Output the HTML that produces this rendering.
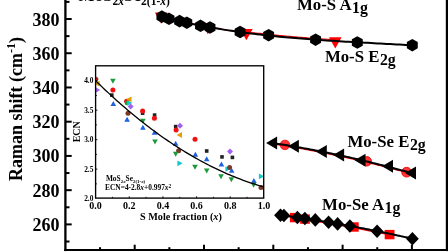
<!DOCTYPE html>
<html><head><meta charset="utf-8"><style>
html,body{margin:0;padding:0;background:#fff;}
svg{display:block;}
text{font-family:"Liberation Serif",serif;font-weight:bold;fill:#000;}
.tk{font-size:18px;}
.yl{font-size:18px;}
.sl{font-size:16.8px;}
.it{font-size:7.4px;}
.ix{font-size:10px;}
.ixl{font-size:10.2px;}
.iyl{font-size:10px;}
.itx{font-size:7.4px;}
</style></head><body>
<svg width="448" height="252" viewBox="0 0 448 252">
<defs><clipPath id="ic"><rect x="95.6" y="65.8" width="168.1" height="132.3"/></clipPath></defs>
<rect width="448" height="252" fill="#fff"/>
<polygon points="154.9,12.5 167.5,12.5 161.2,23.8" fill="#f00"/>
<polygon points="201.5,23 214.1,23 207.8,34.3" fill="#f00"/>
<polygon points="240.1,28.9 252.7,28.9 246.4,40.2" fill="#f00"/>
<polygon points="329,37.3 341.6,37.3 335.3,48.6" fill="#f00"/>
<polyline points="161.2,16.66 163.18,17.17 165.15,17.68 167.13,18.18 169.1,18.66 171.08,19.15 173.05,19.62 175.03,20.09 177,20.55 178.98,21.01 180.95,21.46 182.93,21.9 184.9,22.33 186.88,22.76 188.85,23.18 190.83,23.6 192.8,24.01 194.78,24.41 196.76,24.81 198.73,25.2 200.71,25.58 202.68,25.96 204.66,26.33 206.63,26.7 208.61,27.06 210.58,27.41 212.56,27.76 214.53,28.1 216.51,28.44 218.48,28.77 220.46,29.1 222.43,29.42 224.41,29.74 226.38,30.05 228.36,30.35 230.33,30.65 232.31,30.95 234.29,31.24 236.26,31.46 238.24,31.65 240.21,31.83 242.19,32.01 244.16,32.18 246.14,32.35 248.11,32.51 250.09,32.67 252.06,32.82 254.04,32.97 256.01,33.11 257.99,33.25 259.96,33.39 261.94,33.62 263.91,33.84 265.89,34.06 267.87,34.27 269.84,34.49 271.82,34.69 273.79,34.9 275.77,35.1 277.74,35.3 279.72,35.49 281.69,35.68 283.67,35.87 285.64,36.05 287.62,36.23 289.59,36.41 291.57,36.58 293.54,36.76 295.52,36.92 297.49,37.09 299.47,37.25 301.44,37.41 303.42,37.57 305.4,37.72 307.37,37.88 309.35,38.03 311.32,38.17 313.3,38.32 315.27,38.46 317.25,38.6 319.22,38.74 321.2,38.88 323.17,39.01 325.15,39.14 327.12,39.27 329.1,39.4 331.07,39.53 333.05,39.66 335.02,39.78 337,39.9" fill="none" stroke="#f00" stroke-width="1.2"/>
<polyline points="161.9,16.84 165.07,17.66 168.24,18.45 171.41,19.23 174.58,19.99 177.75,20.73 180.92,21.45 184.09,22.16 187.26,22.84 190.43,23.52 193.6,24.17 196.77,24.81 199.94,25.43 203.11,26.04 206.27,26.63 209.44,27.21 212.61,27.77 215.78,28.32 218.95,28.85 222.12,29.37 225.29,29.88 228.46,30.37 231.63,30.85 234.8,31.31 237.97,31.77 241.14,32.21 244.31,32.64 247.48,33.06 250.65,33.46 253.82,33.86 256.99,34.24 260.16,34.61 263.33,34.97 266.5,35.33 269.67,35.67 272.84,36 276.01,36.32 279.18,36.64 282.35,36.94 285.52,37.24 288.68,37.53 291.85,37.81 295.02,38.08 298.19,38.35 301.36,38.61 304.53,38.86 307.7,39.1 310.87,39.34 314.04,39.57 317.21,39.8 320.38,40.02 323.55,40.24 326.72,40.45 329.89,40.65 333.06,40.86 336.23,41.05 339.4,41.25 342.57,41.44 345.74,41.63 348.91,41.81 352.08,41.99 355.25,42.17 358.42,42.35 361.59,42.52 364.76,42.69 367.93,42.87 371.09,43.04 374.26,43.21 377.43,43.38 380.6,43.54 383.77,43.71 386.94,43.88 390.11,44.05 393.28,44.22 396.45,44.39 399.62,44.57 402.79,44.74 405.96,44.92 409.13,45.1 412.3,45.28" fill="none" stroke="#000" stroke-width="2.0" stroke-linejoin="round"/>
<polygon points="161.9,10.3 156.44,13.45 156.44,19.75 161.9,22.9 167.36,19.75 167.36,13.45" fill="#000"/>
<polygon points="169,12.5 163.54,15.65 163.54,21.95 169,25.1 174.46,21.95 174.46,15.65" fill="#000"/>
<polygon points="179.6,14.8 174.14,17.95 174.14,24.25 179.6,27.4 185.06,24.25 185.06,17.95" fill="#000"/>
<polygon points="186.8,16.4 181.34,19.55 181.34,25.85 186.8,29 192.26,25.85 192.26,19.55" fill="#000"/>
<polygon points="200.5,19.5 195.04,22.65 195.04,28.95 200.5,32.1 205.96,28.95 205.96,22.65" fill="#000"/>
<polygon points="210,21.2 204.54,24.35 204.54,30.65 210,33.8 215.46,30.65 215.46,24.35" fill="#000"/>
<polygon points="240.1,25.7 234.64,28.85 234.64,35.15 240.1,38.3 245.56,35.15 245.56,28.85" fill="#000"/>
<polygon points="268.6,28.9 263.14,32.05 263.14,38.35 268.6,41.5 274.06,38.35 274.06,32.05" fill="#000"/>
<polygon points="315.6,33.4 310.14,36.55 310.14,42.85 315.6,46 321.06,42.85 321.06,36.55" fill="#000"/>
<polygon points="357.3,36.2 351.84,39.35 351.84,45.65 357.3,48.8 362.76,45.65 362.76,39.35" fill="#000"/>
<polygon points="412.3,38.9 406.84,42.05 406.84,48.35 412.3,51.5 417.76,48.35 417.76,42.05" fill="#000"/>
<circle cx="284.95" cy="144.9" r="4.75" fill="#ff3434" stroke="#e80000" stroke-width="0.8"/>
<circle cx="366.7" cy="161.3" r="4.8" fill="#ff3434" stroke="#e80000" stroke-width="0.8"/>
<circle cx="406.6" cy="172.2" r="4.9" fill="#ff3434" stroke="#e80000" stroke-width="0.8"/>
<polyline points="271.5,143.73 273.26,144 275.02,144.27 276.78,144.55 278.54,144.82 280.3,145.1 282.06,145.39 283.82,145.67 285.58,145.96 287.34,146.26 289.09,146.55 290.85,146.85 292.61,147.15 294.37,147.45 296.13,147.76 297.89,148.07 299.65,148.38 301.41,148.69 303.17,149.01 304.93,149.33 306.69,149.65 308.45,149.98 310.21,150.31 311.97,150.64 313.73,150.97 315.49,151.31 317.25,151.65 319.01,151.99 320.77,152.34 322.53,152.69 324.28,153.04 326.04,153.39 327.8,153.75 329.56,154.11 331.32,154.47 333.08,154.83 334.84,155.2 336.6,155.57 338.36,155.94 340.12,156.32 341.88,156.7 343.64,157.08 345.4,157.47 347.16,157.85 348.92,158.24 350.68,158.64 352.44,159.03 354.2,159.43 355.96,159.83 357.72,160.24 359.47,160.64 361.23,161.05 362.99,161.47 364.75,161.88 366.51,162.3 368.27,162.72 370.03,163.14 371.79,163.57 373.55,164 375.31,164.43 377.07,164.87 378.83,165.31 380.59,165.75 382.35,166.19 384.11,166.64 385.87,167.08 387.63,167.54 389.39,167.99 391.15,168.45 392.91,168.91 394.66,169.37 396.42,169.84 398.18,170.31 399.94,170.78 401.7,171.25 403.46,171.73 405.22,172.21 406.98,172.69 408.74,173.18 410.5,173.67" fill="none" stroke="#f00" stroke-width="1.2" stroke-linejoin="round"/>
<polyline points="271.5,142.83 273.26,143.1 275.02,143.37 276.78,143.65 278.54,143.92 280.3,144.2 282.06,144.49 283.82,144.77 285.58,145.06 287.34,145.36 289.09,145.65 290.85,145.95 292.61,146.25 294.37,146.55 296.13,146.86 297.89,147.17 299.65,147.48 301.41,147.79 303.17,148.11 304.93,148.43 306.69,148.75 308.45,149.08 310.21,149.41 311.97,149.74 313.73,150.07 315.49,150.41 317.25,150.75 319.01,151.09 320.77,151.44 322.53,151.79 324.28,152.14 326.04,152.49 327.8,152.85 329.56,153.21 331.32,153.57 333.08,153.93 334.84,154.3 336.6,154.67 338.36,155.04 340.12,155.42 341.88,155.8 343.64,156.18 345.4,156.57 347.16,156.95 348.92,157.34 350.68,157.74 352.44,158.13 354.2,158.53 355.96,158.93 357.72,159.34 359.47,159.74 361.23,160.15 362.99,160.57 364.75,160.98 366.51,161.4 368.27,161.82 370.03,162.24 371.79,162.67 373.55,163.1 375.31,163.53 377.07,163.97 378.83,164.41 380.59,164.85 382.35,165.29 384.11,165.74 385.87,166.18 387.63,166.64 389.39,167.09 391.15,167.55 392.91,168.01 394.66,168.47 396.42,168.94 398.18,169.41 399.94,169.88 401.7,170.35 403.46,170.83 405.22,171.31 406.98,171.79 408.74,172.28 410.5,172.77" fill="none" stroke="#000" stroke-width="2.0" stroke-linejoin="round"/>
<polygon points="266.1,142.9 277.1,136.4 277.1,149.4" fill="#000"/>
<polygon points="287.9,146.3 298.9,139.8 298.9,152.8" fill="#000"/>
<polygon points="315.8,151.5 326.8,145 326.8,158" fill="#000"/>
<polygon points="333.1,155 344.1,148.5 344.1,161.5" fill="#000"/>
<polygon points="354.5,160.3 365.5,153.8 365.5,166.8" fill="#000"/>
<polygon points="382,166.2 393,159.7 393,172.7" fill="#000"/>
<polygon points="405,172.9 416,166.4 416,179.4" fill="#000"/>
<rect x="289.9" y="212.9" width="9.8" height="9.4" fill="#f00"/>
<rect x="300.1" y="214.4" width="9.8" height="9.4" fill="#f00"/>
<rect x="348.9" y="222.3" width="9.8" height="9.4" fill="#f00"/>
<rect x="384.7" y="229.9" width="9.8" height="9.4" fill="#f00"/>
<polyline points="294.8,218.26 296,218.43 297.2,218.6 298.4,218.78 299.6,218.95 300.8,219.13 302,219.3 303.2,219.48 304.4,219.66 305.6,219.84 306.8,220.02 308,220.2 309.2,220.38 310.4,220.56 311.6,220.75 312.8,220.93 314,221.12 315.2,221.31 316.4,221.5 317.6,221.69 318.8,221.88 320,222.07 321.2,222.26 322.4,222.45 323.6,222.65 324.8,222.84 326,223.04 327.2,223.24 328.4,223.44 329.6,223.64 330.8,223.84 332,224.04 333.2,224.24 334.4,224.45 335.6,224.65 336.8,224.86 338,225.07 339.2,225.27 340.4,225.48 341.6,225.69 342.8,225.9 344,226.12 345.2,226.33 346.4,226.54 347.6,226.76 348.8,226.98 350,227.19 351.2,227.41 352.4,227.63 353.6,227.85 354.8,228.07 356,228.3 357.2,228.52 358.4,228.74 359.6,228.97 360.8,229.2 362,229.42 363.2,229.65 364.4,229.88 365.6,230.11 366.8,230.35 368,230.58 369.2,230.81 370.4,231.05 371.6,231.28 372.8,231.52 374,231.76 375.2,232 376.4,232.24 377.6,232.48 378.8,232.72 380,232.97 381.2,233.21 382.4,233.46 383.6,233.7 384.8,233.95 386,234.2 387.2,234.45 388.4,234.7 389.6,234.95" fill="none" stroke="#f00" stroke-width="1.2" stroke-linejoin="round"/>
<polyline points="280.5,215.11 282.17,215.33 283.84,215.55 285.51,215.77 287.18,216 288.85,216.23 290.52,216.46 292.19,216.69 293.86,216.93 295.53,217.17 297.2,217.4 298.87,217.65 300.54,217.89 302.21,218.13 303.87,218.38 305.54,218.63 307.21,218.88 308.88,219.13 310.55,219.39 312.22,219.64 313.89,219.9 315.56,220.16 317.23,220.43 318.9,220.69 320.57,220.96 322.24,221.23 323.91,221.5 325.58,221.77 327.25,222.05 328.92,222.32 330.59,222.6 332.26,222.88 333.93,223.17 335.6,223.45 337.27,223.74 338.94,224.03 340.61,224.32 342.28,224.61 343.95,224.91 345.62,225.2 347.28,225.5 348.95,225.8 350.62,226.11 352.29,226.41 353.96,226.72 355.63,227.03 357.3,227.34 358.97,227.65 360.64,227.97 362.31,228.28 363.98,228.6 365.65,228.92 367.32,229.25 368.99,229.57 370.66,229.9 372.33,230.23 374,230.56 375.67,230.89 377.34,231.23 379.01,231.56 380.68,231.9 382.35,232.24 384.02,232.59 385.69,232.93 387.36,233.28 389.03,233.63 390.69,233.98 392.36,234.33 394.03,234.69 395.7,235.04 397.37,235.4 399.04,235.76 400.71,236.13 402.38,236.49 404.05,236.86 405.72,237.23 407.39,237.6 409.06,237.97 410.73,238.35 412.4,238.73" fill="none" stroke="#000" stroke-width="2.0" stroke-linejoin="round"/>
<polygon points="280.5,208.4 286.9,215.2 280.5,222 274.1,215.2" fill="#000"/>
<polygon points="283.9,208.7 290.3,215.5 283.9,222.3 277.5,215.5" fill="#000"/>
<polygon points="297.4,210.7 303.8,217.5 297.4,224.3 291,217.5" fill="#000"/>
<polygon points="304.9,211.7 311.3,218.5 304.9,225.3 298.5,218.5" fill="#000"/>
<polygon points="315.3,213.1 321.7,219.9 315.3,226.7 308.9,219.9" fill="#000"/>
<polygon points="328.6,215.5 335,222.3 328.6,229.1 322.2,222.3" fill="#000"/>
<polygon points="337.6,217.1 344,223.9 337.6,230.7 331.2,223.9" fill="#000"/>
<polygon points="349.9,219.2 356.3,226 349.9,232.8 343.5,226" fill="#000"/>
<polygon points="377.1,224.4 383.5,231.2 377.1,238 370.7,231.2" fill="#000"/>
<polygon points="412.4,231.9 418.8,238.7 412.4,245.5 406,238.7" fill="#000"/>
<line x1="65.4" y1="0" x2="65.4" y2="251.1" stroke="#000" stroke-width="2.3"/>
<line x1="446.9" y1="0" x2="446.9" y2="251.1" stroke="#000" stroke-width="2.2"/>
<line x1="64.30000000000001" y1="250.0" x2="448.0" y2="250.0" stroke="#000" stroke-width="2.1"/>
<line x1="65.4" y1="241.52" x2="69.5" y2="241.52" stroke="#000" stroke-width="2"/>
<line x1="65.4" y1="224.4" x2="71.7" y2="224.4" stroke="#000" stroke-width="2"/>
<line x1="65.4" y1="207.28" x2="69.5" y2="207.28" stroke="#000" stroke-width="2"/>
<line x1="65.4" y1="190.17" x2="71.7" y2="190.17" stroke="#000" stroke-width="2"/>
<line x1="65.4" y1="173.05" x2="69.5" y2="173.05" stroke="#000" stroke-width="2"/>
<line x1="65.4" y1="155.93" x2="71.7" y2="155.93" stroke="#000" stroke-width="2"/>
<line x1="65.4" y1="138.82" x2="69.5" y2="138.82" stroke="#000" stroke-width="2"/>
<line x1="65.4" y1="121.7" x2="71.7" y2="121.7" stroke="#000" stroke-width="2"/>
<line x1="65.4" y1="104.58" x2="69.5" y2="104.58" stroke="#000" stroke-width="2"/>
<line x1="65.4" y1="87.47" x2="71.7" y2="87.47" stroke="#000" stroke-width="2"/>
<line x1="65.4" y1="70.35" x2="69.5" y2="70.35" stroke="#000" stroke-width="2"/>
<line x1="65.4" y1="53.23" x2="71.7" y2="53.23" stroke="#000" stroke-width="2"/>
<line x1="65.4" y1="36.12" x2="69.5" y2="36.12" stroke="#000" stroke-width="2"/>
<line x1="65.4" y1="19" x2="71.7" y2="19" stroke="#000" stroke-width="2"/>
<line x1="65.4" y1="1.88" x2="69.5" y2="1.88" stroke="#000" stroke-width="2"/>
<line x1="100.05" y1="250.0" x2="100.05" y2="247.2" stroke="#000" stroke-width="2"/>
<line x1="134.7" y1="250.0" x2="134.7" y2="244.7" stroke="#000" stroke-width="2"/>
<line x1="169.35" y1="250.0" x2="169.35" y2="247.2" stroke="#000" stroke-width="2"/>
<line x1="204" y1="250.0" x2="204" y2="244.7" stroke="#000" stroke-width="2"/>
<line x1="238.65" y1="250.0" x2="238.65" y2="247.2" stroke="#000" stroke-width="2"/>
<line x1="273.3" y1="250.0" x2="273.3" y2="244.7" stroke="#000" stroke-width="2"/>
<line x1="307.95" y1="250.0" x2="307.95" y2="247.2" stroke="#000" stroke-width="2"/>
<line x1="342.6" y1="250.0" x2="342.6" y2="244.7" stroke="#000" stroke-width="2"/>
<line x1="377.25" y1="250.0" x2="377.25" y2="247.2" stroke="#000" stroke-width="2"/>
<line x1="411.9" y1="250.0" x2="411.9" y2="244.7" stroke="#000" stroke-width="2"/>
<text x="59.5" y="230.9" text-anchor="end" class="tk">260</text>
<text x="59.5" y="196.67" text-anchor="end" class="tk">280</text>
<text x="59.5" y="162.43" text-anchor="end" class="tk">300</text>
<text x="59.5" y="128.2" text-anchor="end" class="tk">320</text>
<text x="59.5" y="93.97" text-anchor="end" class="tk">340</text>
<text x="59.5" y="59.73" text-anchor="end" class="tk">360</text>
<text x="59.5" y="25.5" text-anchor="end" class="tk">380</text>
<text class="yl" transform="translate(22.3,181) rotate(-90)">Raman shift (cm<tspan dy="-7.5" font-size="12">-1</tspan><tspan dy="7.5">)</tspan></text>
<text x="297.0" y="10.4" class="sl">Mo-S A<tspan dx="0.5" dy="2.9" font-size="15.8">1g</tspan></text>
<text x="324.9" y="62.4" class="sl">Mo-S E<tspan dx="0.5" dy="2.9" font-size="15.8">2g</tspan></text>
<text x="347.4" y="147.0" class="sl">Mo-Se E<tspan dx="0.5" dy="2.9" font-size="15.8">2g</tspan></text>
<text x="322.1" y="209.6" class="sl">Mo-Se A<tspan dx="0.5" dy="2.9" font-size="15.8">1g</tspan></text>
<text x="78.6" y="0.5" class="sl" style="font-size:17px">MoS<tspan dy="4.8" font-size="11.5">2<tspan font-style="italic">x</tspan></tspan><tspan dy="-4.8">Se</tspan><tspan dy="4.8" font-size="11.5">2(1-<tspan font-style="italic">x</tspan>)</tspan></text>
<rect x="95.6" y="65.8" width="168.1" height="132.3" fill="#fff"/>
<g clip-path="url(#ic)"><circle cx="96.3" cy="79.1" r="1.8" fill="#f01010" stroke="#402020" stroke-width="0.6"/><polygon points="94.2,83.6 99.6,80.7 99.6,86.5" fill="#e0a000"/><polygon points="100.2,90 95.2,87 95.2,93" fill="#a060f0"/><polygon points="110.1,78.65 115.7,78.65 112.9,83.65" fill="#1a9a3a"/><circle cx="112.9" cy="90.1" r="2.5" fill="#f01010"/><rect x="110" y="93.3" width="3.6" height="3.6" fill="#222"/><polygon points="110.5,105.95 116.1,105.95 113.3,100.95" fill="#1f5fe0"/><circle cx="126.6" cy="101.2" r="2.5" fill="#f01010"/><circle cx="127" cy="103" r="2.3" fill="#1a9a3a"/><polygon points="126.1,99.3 131.5,96.4 131.5,102.2" fill="#e0a000"/><polygon points="132.35,103 127.05,100.15 127.05,105.85" fill="#10c8d0"/><polygon points="130.6,103.6 133.6,106.6 130.6,109.6 127.6,106.6" fill="#a060f0"/><circle cx="128" cy="113.3" r="2.5" fill="#7a3a2a"/><polygon points="124.3,121.65 129.9,121.65 127.1,116.65" fill="#1f5fe0"/><rect x="140.8" y="111.4" width="3.6" height="3.6" fill="#222"/><circle cx="142.6" cy="110.9" r="2.5" fill="#f01010"/><polygon points="140.1,118.85 145.7,118.85 142.9,123.85" fill="#1a9a3a"/><polygon points="140.1,129.85 145.7,129.85 142.9,124.85" fill="#1f5fe0"/><rect x="152.8" y="113.3" width="3.6" height="3.6" fill="#222"/><circle cx="154.4" cy="118.3" r="2.5" fill="#f01010"/><polygon points="151.7,134.65 157.3,134.65 154.5,129.65" fill="#1f5fe0"/><polygon points="152.2,139.45 157.8,139.45 155,144.45" fill="#1a9a3a"/><rect x="173.9" y="124.8" width="3.6" height="3.6" fill="#222"/><polygon points="180,122.8 183,125.8 180,128.8 177,125.8" fill="#a060f0"/><circle cx="176.1" cy="130" r="2.5" fill="#f01010"/><polygon points="176.6,135 182,132.1 182,137.9" fill="#e0a000"/><polygon points="172.9,145.85 178.5,145.85 175.7,140.85" fill="#1f5fe0"/><circle cx="178.6" cy="150.7" r="2.5" fill="#7a3a2a"/><polygon points="172.9,151.75 178.5,151.75 175.7,156.75" fill="#1a9a3a"/><polygon points="182.65,163.3 177.35,160.45 177.35,166.15" fill="#10c8d0"/><circle cx="195" cy="139.3" r="2.5" fill="#f01010"/><polygon points="192.6,156.75 198.2,156.75 195.4,151.75" fill="#1f5fe0"/><polygon points="192.2,164.65 197.8,164.65 195,169.65" fill="#1a9a3a"/><rect x="204.9" y="149.2" width="3.6" height="3.6" fill="#222"/><polygon points="203.9,161.15 209.5,161.15 206.7,156.15" fill="#1f5fe0"/><polygon points="203.9,168.45 209.5,168.45 206.7,173.45" fill="#1a9a3a"/><rect x="220.2" y="155.1" width="3.6" height="3.6" fill="#222"/><rect x="230.6" y="155.6" width="3.6" height="3.6" fill="#222"/><polygon points="230,148.4 233,151.4 230,154.4 227,151.4" fill="#a060f0"/><polygon points="218.6,166.55 224.2,166.55 221.4,161.55" fill="#1f5fe0"/><polygon points="230.65,169 225.35,166.15 225.35,171.85" fill="#10c8d0"/><circle cx="229.6" cy="167.4" r="2.5" fill="#7a3a2a"/><polygon points="228.9,172.65 234.5,172.65 231.7,167.65" fill="#1f5fe0"/><polygon points="218.2,174.15 223.8,174.15 221,179.15" fill="#1a9a3a"/><polygon points="228.6,177.25 234.2,177.25 231.4,182.25" fill="#1a9a3a"/><polygon points="251.1,182.95 256.7,182.95 253.9,177.95" fill="#1f5fe0"/><polygon points="250.8,182.75 256.4,182.75 253.6,187.75" fill="#1a9a3a"/><polygon points="264.15,176.4 258.85,173.55 258.85,179.25" fill="#10c8d0"/><circle cx="261" cy="187.4" r="2.5" fill="#7a3a2a"/><polyline points="95.6,80.7 97.73,82.78 99.86,84.84 101.99,86.88 104.12,88.91 106.25,90.91 108.38,92.9 110.51,94.86 112.64,96.81 114.77,98.74 116.9,100.65 119.03,102.54 121.16,104.42 123.29,106.27 125.43,108.11 127.56,109.92 129.69,111.72 131.82,113.5 133.95,115.26 136.08,117 138.21,118.72 140.34,120.42 142.47,122.11 144.6,123.77 146.73,125.42 148.86,127.05 150.99,128.66 153.12,130.25 155.25,131.82 157.38,133.37 159.51,134.91 161.64,136.42 163.77,137.92 165.9,139.39 168.03,140.85 170.16,142.29 172.29,143.71 174.42,145.11 176.55,146.5 178.68,147.86 180.82,149.21 182.95,150.53 185.08,151.84 187.21,153.13 189.34,154.4 191.47,155.65 193.6,156.88 195.73,158.1 197.86,159.29 199.99,160.47 202.12,161.63 204.25,162.76 206.38,163.88 208.51,164.98 210.64,166.07 212.77,167.13 214.9,168.17 217.03,169.2 219.16,170.2 221.29,171.19 223.42,172.16 225.55,173.11 227.68,174.04 229.81,174.95 231.94,175.85 234.07,176.72 236.21,177.58 238.34,178.41 240.47,179.23 242.6,180.03 244.73,180.81 246.86,181.57 248.99,182.32 251.12,183.04 253.25,183.74 255.38,184.43 257.51,185.1 259.64,185.75 261.77,186.38 263.9,186.99" fill="none" stroke="#000" stroke-width="1.3"/></g>
<rect x="95.6" y="65.8" width="168.1" height="132.3" fill="none" stroke="#000" stroke-width="1.35"/>
<line x1="112.43" y1="198.1" x2="112.43" y2="196.8" stroke="#000" stroke-width="0.9"/>
<line x1="129.26" y1="198.1" x2="129.26" y2="196.3" stroke="#000" stroke-width="0.9"/>
<line x1="146.09" y1="198.1" x2="146.09" y2="196.8" stroke="#000" stroke-width="0.9"/>
<line x1="162.92" y1="198.1" x2="162.92" y2="196.3" stroke="#000" stroke-width="0.9"/>
<line x1="179.75" y1="198.1" x2="179.75" y2="196.8" stroke="#000" stroke-width="0.9"/>
<line x1="196.58" y1="198.1" x2="196.58" y2="196.3" stroke="#000" stroke-width="0.9"/>
<line x1="213.41" y1="198.1" x2="213.41" y2="196.8" stroke="#000" stroke-width="0.9"/>
<line x1="230.24" y1="198.1" x2="230.24" y2="196.3" stroke="#000" stroke-width="0.9"/>
<line x1="247.07" y1="198.1" x2="247.07" y2="196.8" stroke="#000" stroke-width="0.9"/>
<line x1="95.6" y1="183.86" x2="96.9" y2="183.86" stroke="#000" stroke-width="0.9"/>
<line x1="95.6" y1="169.12" x2="97.4" y2="169.12" stroke="#000" stroke-width="0.9"/>
<line x1="95.6" y1="154.39" x2="96.9" y2="154.39" stroke="#000" stroke-width="0.9"/>
<line x1="95.6" y1="139.65" x2="97.4" y2="139.65" stroke="#000" stroke-width="0.9"/>
<line x1="95.6" y1="124.91" x2="96.9" y2="124.91" stroke="#000" stroke-width="0.9"/>
<line x1="95.6" y1="110.18" x2="97.4" y2="110.18" stroke="#000" stroke-width="0.9"/>
<line x1="95.6" y1="95.44" x2="96.9" y2="95.44" stroke="#000" stroke-width="0.9"/>
<line x1="95.6" y1="80.7" x2="97.4" y2="80.7" stroke="#000" stroke-width="0.9"/>
<text x="93.4" y="201.2" text-anchor="end" class="it">2.0</text>
<text x="93.4" y="171.72" text-anchor="end" class="it">2.5</text>
<text x="93.4" y="142.25" text-anchor="end" class="it">3.0</text>
<text x="93.4" y="112.78" text-anchor="end" class="it">3.5</text>
<text x="93.4" y="83.3" text-anchor="end" class="it">4.0</text>
<text x="95.6" y="208.6" text-anchor="middle" class="ix">0.0</text>
<text x="129.26" y="208.6" text-anchor="middle" class="ix">0.2</text>
<text x="162.92" y="208.6" text-anchor="middle" class="ix">0.4</text>
<text x="196.58" y="208.6" text-anchor="middle" class="ix">0.6</text>
<text x="230.24" y="208.6" text-anchor="middle" class="ix">0.8</text>
<text x="263.9" y="208.6" text-anchor="middle" class="ix">1.0</text>
<text x="180.9" y="219.5" text-anchor="middle" class="ixl">S Mole fraction (<tspan font-style="italic">x</tspan>)</text>
<text class="iyl" transform="translate(79.6,131.8) rotate(-90)" text-anchor="middle">ECN</text>
<text x="105.9" y="180.9" class="itx">MoS<tspan dy="1.8" font-size="4.9">2<tspan font-style="italic">x</tspan></tspan><tspan dy="-1.8">Se</tspan><tspan dy="1.8" font-size="4.9">2(1-<tspan font-style="italic">x</tspan>)</tspan></text>
<text x="105.1" y="190.3" class="itx">ECN=4-2.8<tspan font-style="italic">x</tspan>+0.997<tspan font-style="italic">x</tspan><tspan dy="-2.8" font-size="5.4">2</tspan></text>
</svg>
</body></html>
